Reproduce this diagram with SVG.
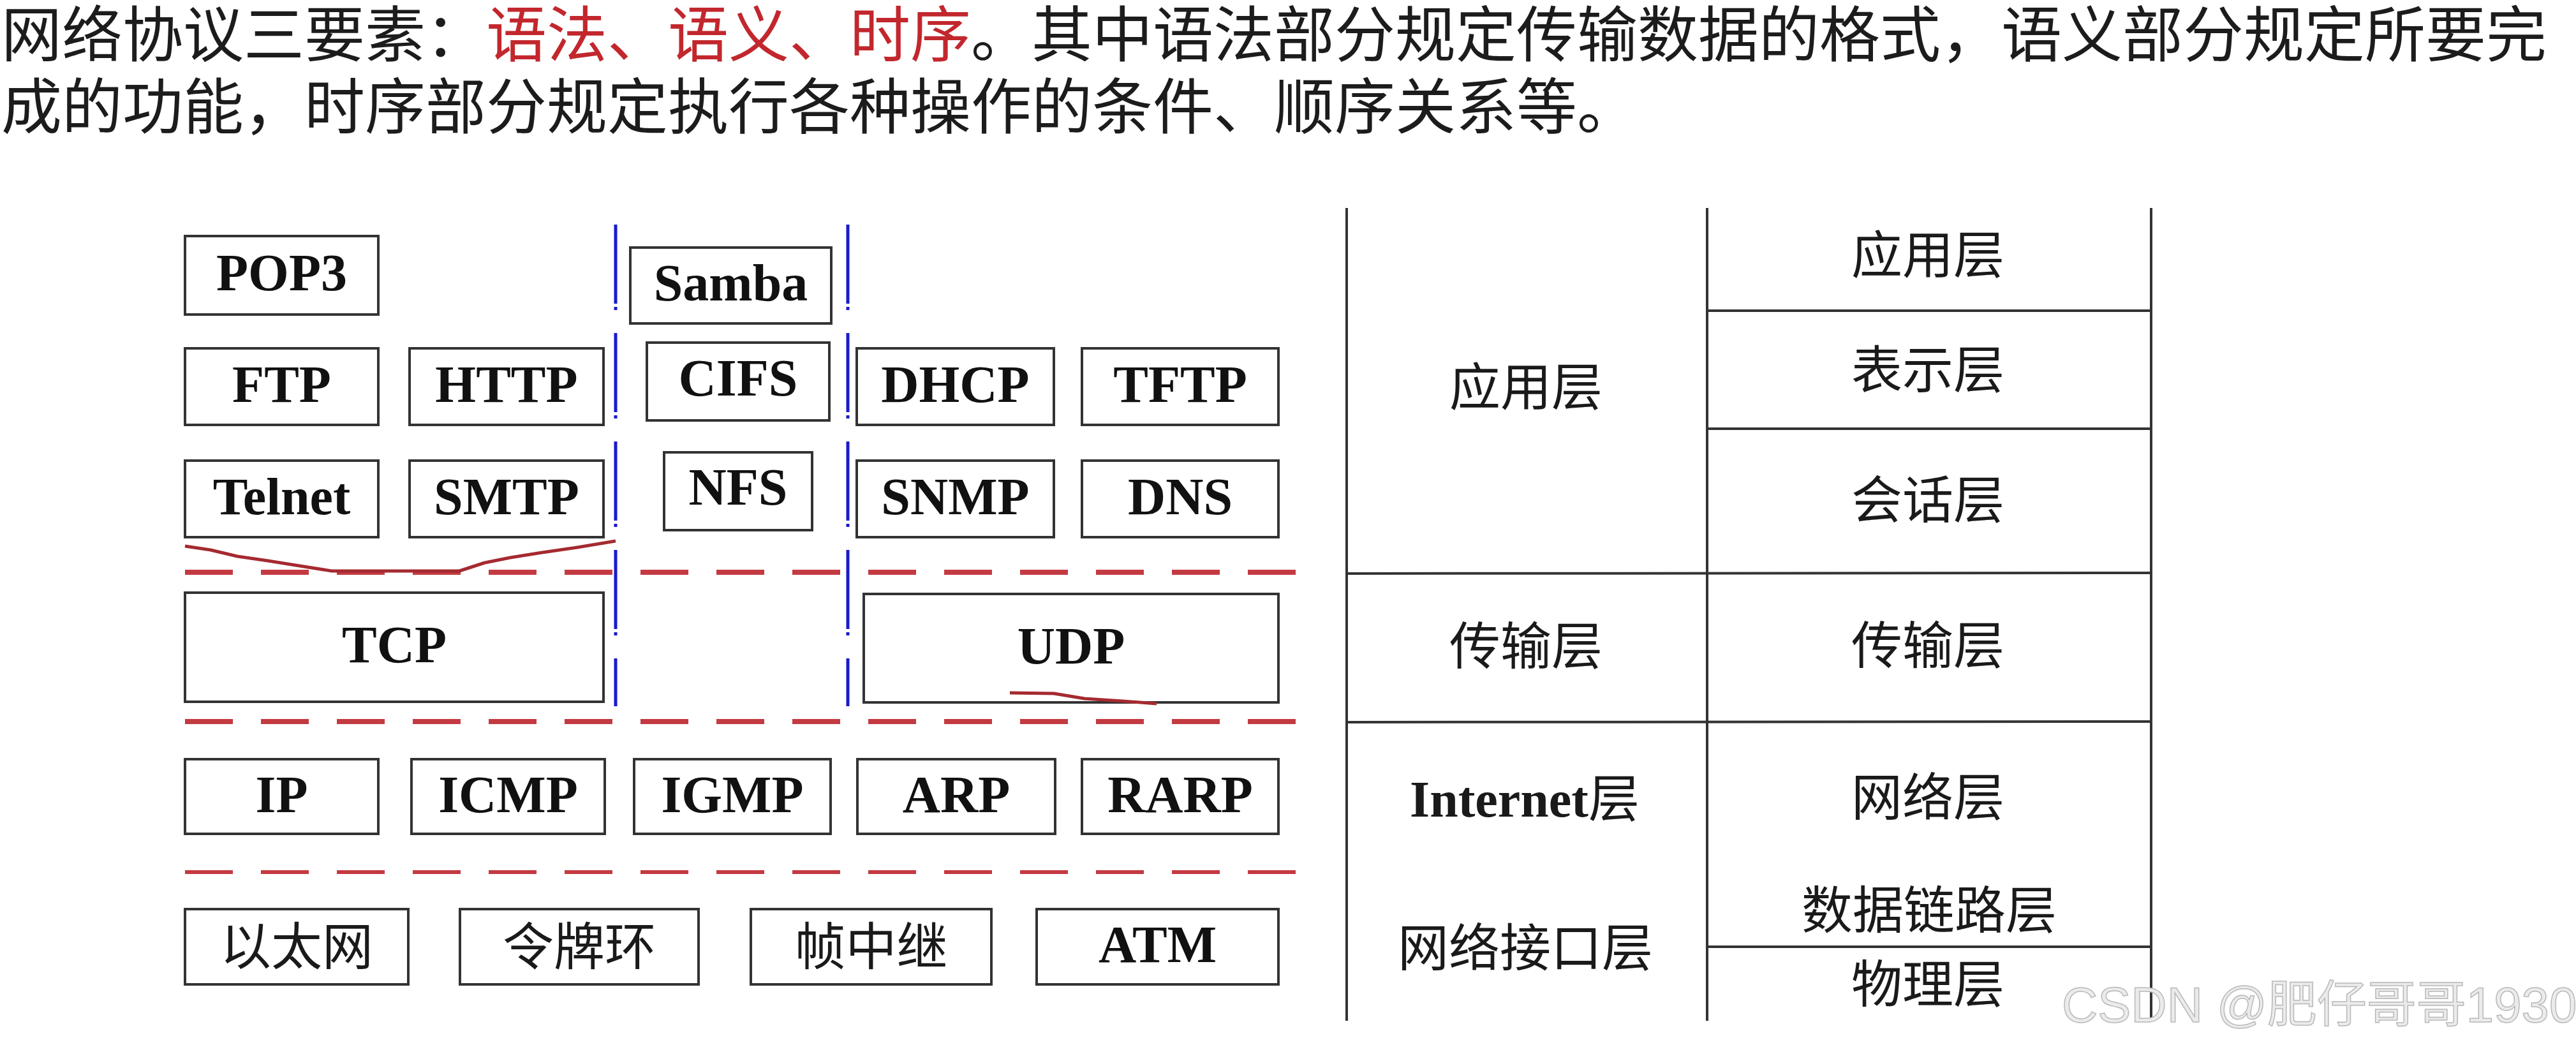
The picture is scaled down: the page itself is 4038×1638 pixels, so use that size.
<svg xmlns="http://www.w3.org/2000/svg" width="4038" height="1638" viewBox="0 0 4038 1638">
<style>
.hdr{font-family:"Noto Sans CJK SC","Noto Sans",sans-serif;font-size:95px;fill:#1c1c1c}
.red{fill:#c2272d}
.box{fill:#fff;stroke:#333;stroke-width:4}
.lb{font-family:"Liberation Serif","Noto Sans CJK SC",serif;font-weight:bold;font-size:82px;fill:#111;text-anchor:middle}
.cn{font-family:"Noto Sans CJK SC","Liberation Serif",sans-serif;font-size:80px;fill:#1a1a1a;text-anchor:middle}
.tl{stroke:#333;stroke-width:4;fill:none}
.rd{stroke:#c43a42;stroke-width:8;stroke-dasharray:75 44;fill:none}
.bl{stroke:#1a1acc;stroke-width:5;stroke-dasharray:124 5 5 36;fill:none}
.ann{stroke:#a52a30;stroke-width:5;fill:none;stroke-linejoin:round}
.wm{font-family:"Liberation Sans","Noto Sans CJK SC",sans-serif;font-size:78px;fill:#ebebeb;stroke:#b8b8b8;stroke-width:1.5}
</style>
<rect width="4038" height="1638" fill="#fff"/>
<g id="header">
<text class="hdr" x="2" y="89">网络协议三要素：<tspan class="red">语法、语义、时序</tspan>。其中语法部分规定传输数据的格式，语义部分规定所要完</text>
<text class="hdr" x="2" y="202">成的功能，时序部分规定执行各种操作的条件、顺序关系等。</text>
</g>
<g id="connectors">
<line class="bl" x1="965" y1="352" x2="965" y2="1107"/>
<line class="bl" x1="1329" y1="352" x2="1329" y2="1107"/>
<line class="rd" x1="290" y1="897" x2="2033" y2="897"/>
<line class="rd" x1="290" y1="1131" x2="2033" y2="1131"/>
<line class="rd" x1="290" y1="1367" x2="2033" y2="1367" style="stroke-width:6"/>
</g>
<g id="n-pop3"><rect class="box" x="290" y="370" width="303" height="123"/><text class="lb" x="441.5" y="455">POP3</text></g>
<g id="n-samba"><rect class="box" x="988" y="388" width="315" height="119"/><text class="lb" x="1145.5" y="471">Samba</text></g>
<g id="n-ftp"><rect class="box" x="290" y="546" width="303" height="120"/><text class="lb" x="441.5" y="630">FTP</text></g>
<g id="n-http"><rect class="box" x="642" y="546" width="304" height="120"/><text class="lb" x="794" y="630">HTTP</text></g>
<g id="n-cifs"><rect class="box" x="1014" y="537" width="286" height="122"/><text class="lb" x="1157" y="620">CIFS</text></g>
<g id="n-dhcp"><rect class="box" x="1343" y="546" width="309" height="120"/><text class="lb" x="1497.5" y="630">DHCP</text></g>
<g id="n-tftp"><rect class="box" x="1696" y="546" width="308" height="120"/><text class="lb" x="1850" y="630">TFTP</text></g>
<g id="n-telnet"><rect class="box" x="290" y="722" width="303" height="120"/><text class="lb" x="441.5" y="806">Telnet</text></g>
<g id="n-smtp"><rect class="box" x="642" y="722" width="304" height="120"/><text class="lb" x="794" y="806">SMTP</text></g>
<g id="n-nfs"><rect class="box" x="1041" y="709" width="232" height="122"/><text class="lb" x="1157" y="791">NFS</text></g>
<g id="n-snmp"><rect class="box" x="1343" y="722" width="309" height="120"/><text class="lb" x="1497.5" y="806">SNMP</text></g>
<g id="n-dns"><rect class="box" x="1696" y="722" width="308" height="120"/><text class="lb" x="1850" y="806">DNS</text></g>
<g id="n-tcp"><rect class="box" x="290" y="929" width="656" height="171"/><text class="lb" x="618" y="1038">TCP</text></g>
<g id="n-udp"><rect class="box" x="1354" y="931" width="650" height="170"/><text class="lb" x="1679" y="1040">UDP</text></g>
<g id="n-ip"><rect class="box" x="290" y="1190" width="303" height="117"/><text class="lb" x="441.5" y="1273">IP</text></g>
<g id="n-icmp"><rect class="box" x="645" y="1190" width="303" height="117"/><text class="lb" x="796.5" y="1273">ICMP</text></g>
<g id="n-igmp"><rect class="box" x="994" y="1190" width="308" height="117"/><text class="lb" x="1148" y="1273">IGMP</text></g>
<g id="n-arp"><rect class="box" x="1344" y="1190" width="310" height="117"/><text class="lb" x="1499" y="1273">ARP</text></g>
<g id="n-rarp"><rect class="box" x="1696" y="1190" width="308" height="117"/><text class="lb" x="1850" y="1273">RARP</text></g>
<g id="n-ethernet"><rect class="box" x="290" y="1425" width="350" height="118"/><text class="cn" x="465" y="1512">以太网</text></g>
<g id="n-tokenring"><rect class="box" x="721" y="1425" width="374" height="118"/><text class="cn" x="908" y="1512">令牌环</text></g>
<g id="n-framerelay"><rect class="box" x="1177" y="1425" width="377" height="118"/><text class="cn" x="1365.5" y="1512">帧中继</text></g>
<g id="n-atm"><rect class="box" x="1625" y="1425" width="379" height="118"/><text class="lb" x="1814.5" y="1508">ATM</text></g>
<g id="annotations">
<path class="ann" d="M290,856 L330,862 L372,872 L420,879 L470,887 L520,895 L720,895 L760,882 L800,874 L850,866 L905,858 L965,848"/>
<path class="ann" d="M1583,1086 L1652,1087 L1700,1095 L1760,1099 L1813,1103"/>
</g>
<g id="table">
<line class="tl" x1="2111" y1="326" x2="2111" y2="1600"/>
<line class="tl" x1="2676" y1="326" x2="2676" y2="1600"/>
<line class="tl" x1="3372" y1="326" x2="3372" y2="1600"/>
<line class="tl" x1="2676" y1="487" x2="3372" y2="487"/>
<line class="tl" x1="2676" y1="672" x2="3372" y2="672"/>
<line class="tl" x1="2111" y1="899" x2="3372" y2="898"/>
<line class="tl" x1="2111" y1="1132" x2="3372" y2="1131"/>
<line class="tl" x1="2676" y1="1484" x2="3372" y2="1484"/>
</g>
<g id="t-app-l"><text class="cn" x="2392" y="635">应用层</text></g>
<g id="t-trans-l"><text class="cn" x="2392" y="1041">传输层</text></g>
<g id="t-internet"><text class="cn" x="2390" y="1280"><tspan style="font-family:'Liberation Serif',serif;font-weight:bold">Internet</tspan>层</text></g>
<g id="t-netif"><text class="cn" x="2391" y="1514">网络接口层</text></g>
<g id="t-app-r"><text class="cn" x="3022" y="428">应用层</text></g>
<g id="t-pres"><text class="cn" x="3022" y="608">表示层</text></g>
<g id="t-sess"><text class="cn" x="3022" y="812">会话层</text></g>
<g id="t-trans-r"><text class="cn" x="3022" y="1040">传输层</text></g>
<g id="t-net"><text class="cn" x="3022" y="1278">网络层</text></g>
<g id="t-dl"><text class="cn" x="3024" y="1455">数据链路层</text></g>
<g id="t-phy"><text class="cn" x="3022" y="1571">物理层</text></g>
<g id="watermark"><text class="wm" x="3232" y="1602">CSDN @肥仔哥哥1930</text></g>
</svg>
